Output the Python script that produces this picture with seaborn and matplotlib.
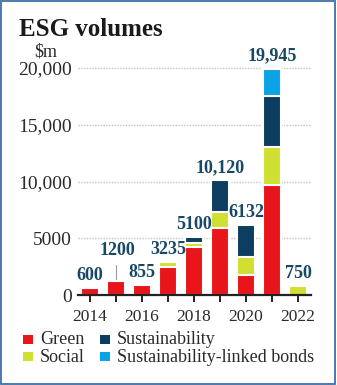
import matplotlib
matplotlib.use("Agg")
import matplotlib.pyplot as plt
import matplotlib.patches as mpatches
import seaborn as sns
import pandas as pd
import numpy as np

# ---- data ----
years = ["2014", "2015", "2016", "2017", "2018", "2019", "2020", "2021", "2022"]
green = [600, 1200, 855, 2500, 4200, 5900, 1800, 9700, 0]
social = [0, 0, 0, 400, 400, 1450, 1530, 3300, 750]
sustainability = [0, 0, 0, 0, 500, 2770, 2802, 4500, 0]
sustain_linked = [0, 0, 0, 0, 0, 0, 0, 2445, 0]
total_labels = ["600", "1200", "855", "3235", "5100", "10,120", "6132", "19,945", "750"]
xtick_labels = ["2014", "", "2016", "", "2018", "", "2020", "", "2022"]
yticks = [0, 5000, 10000, 15000, 20000]
ytick_labels = ["0", "5000", "10,000", "15,000", "20,000"]
series_names = ["Green", "Social", "Sustainability", "Sustainability-linked bonds"]
colors = ["#e8161b", "#cfe032", "#0d3d5f", "#0aa3e6"]

W, H = 337, 385
sns.set_theme(style="white")
plt.rcParams["font.family"] = ["Liberation Serif", "DejaVu Serif"]

fig = plt.figure(figsize=(W / 100, H / 100), dpi=100)
fig.patch.set_facecolor("white")

def fx(px):
    return px / W

def fy(py):
    return 1 - py / H

ax_left, ax_right, ax_top, ax_bottom = 78, 311, 62, 295
ax = fig.add_axes([fx(ax_left), fy(ax_bottom), (ax_right - ax_left) / W, (ax_bottom - ax_top) / H])

df = pd.DataFrame({"year": years, "Green": green, "Social": social,
                   "Sustainability": sustainability,
                   "Sustainability-linked bonds": sustain_linked})
cum = df[series_names].cumsum(axis=1)

# draw cumulative stacks from top layer down so each lower layer overlays
for name, col in reversed(list(zip(series_names, colors))):
    sns.barplot(x=df["year"], y=cum[name], order=years, color=col, ax=ax,
                width=0.72, edgecolor="white", linewidth=1.5, saturation=1,
                zorder=2)

ax.set_xlim(-0.46, 8.5)
ax.set_ylim(0, 20530)
ax.set_xlabel("")
ax.set_ylabel("")

# gridlines
ax.set_yticks(yticks)
ax.set_yticklabels(ytick_labels)
ax.yaxis.grid(True, linestyle=(0, (1, 1)), color="#c4c4c4", linewidth=1.0, zorder=0)
ax.set_axisbelow(True)
ax.tick_params(axis="y", length=0, pad=4.5, labelsize=14, labelcolor="#2a2a2a")

ax.set_xticks(range(len(years)))
ax.set_xticklabels(xtick_labels)
ax.tick_params(axis="x", length=5, width=1.4, color="#222222", pad=5,
               labelsize=12.5, labelcolor="#2a2a2a", direction="out", bottom=True)

for s in ["top", "right", "left"]:
    ax.spines[s].set_visible(False)
ax.spines["bottom"].set_color("#222222")
ax.spines["bottom"].set_linewidth(1.6)
ax.spines["bottom"].set_zorder(5)

# value labels
totals = cum[series_names[-1]].values
label_color = "#184866"
for i, (t, lab) in enumerate(zip(totals, total_labels)):
    if lab == "1200":
        ax.annotate(lab, xy=(i, t), xytext=(1, 16), textcoords="offset points",
                    ha="center", va="bottom", fontsize=13, fontweight="bold",
                    color=label_color)
        ax.plot([i, i], [t + 180, t + 1400], color="#9a9a9a", linewidth=0.8, zorder=3)
    else:
        ax.annotate(lab, xy=(i, t), xytext=(0, 3), textcoords="offset points",
                    ha="center", va="bottom", fontsize=13, fontweight="bold",
                    color=label_color)

# title and unit
fig.text(fx(19), fy(36), "ESG volumes", fontsize=18, fontweight="bold",
         color="#1a1a1a", ha="left", va="baseline")
fig.text(fx(34), fy(56), "$m", fontsize=13, color="#2a2a2a", ha="left", va="baseline")

# legend (manual)
legend_items = [
    (23, 335, 40, "Green", colors[0]),
    (100, 335, 117, "Sustainability", colors[2]),
    (23, 352, 40, "Social", colors[1]),
    (100, 352, 117, "Sustainability-linked bonds", colors[3]),
]
for sx, sy, tx, txt, col in legend_items:
    fig.add_artist(mpatches.Rectangle((fx(sx), fy(sy + 9)), 10 / W, 9 / H,
                                      transform=fig.transFigure, facecolor=col,
                                      edgecolor="none"))
    fig.text(fx(tx), fy(sy + 9.5), txt, fontsize=13, color="#2a2a2a",
             ha="left", va="baseline")

# outer frame
fig.add_artist(mpatches.Rectangle((fx(0.8), fy(383.5)), (334.5 - 0.8) / W, (383.5 - 0.8) / H,
                                  transform=fig.transFigure, facecolor="none",
                                  edgecolor="#3d6fa8", linewidth=1.3))

fig.savefig("out.png", dpi=100, facecolor="white")
